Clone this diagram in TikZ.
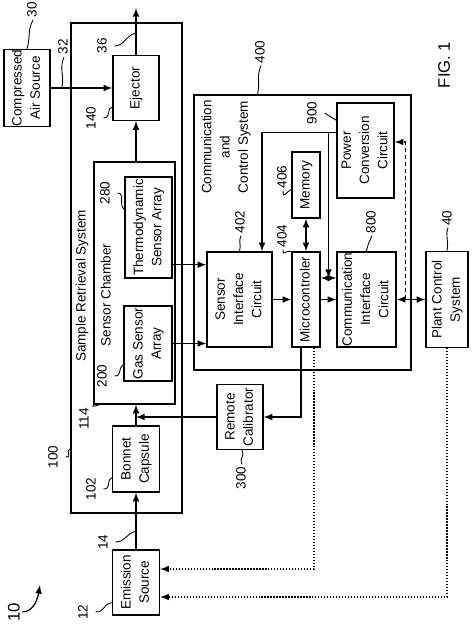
\documentclass[tikz,border=0pt]{standalone}
\usepackage{fontspec}
\setmainfont{Liberation Sans}
\usepackage{graphicx}
\usepackage{tikz}
\usetikzlibrary{calc}

\newcommand{\vtext}[1]{\rotatebox{90}{\begin{tabular}{@{}c@{}}#1\end{tabular}}}

\tikzset{
  box/.style={draw, line width=0.8pt, inner sep=0pt},
  num/.style={inner sep=1pt},
  lead/.style={line width=0.5pt},
  dotline/.style={densely dotted, line width=0.7pt},
}

\begin{document}
\begin{tikzpicture}[x=0.02cm, y=-0.02cm, >=latex, line width=0.7pt,
  every node/.style={font=\fontsize{7.7}{10.4}\selectfont}]
  \useasboundingbox (0,0) rectangle (474,624);

  % sample retrieval system
  \node[box, minimum width=2.22cm, minimum height=9.80cm] (srs) at (126.5,268) {};
  \node (srstext) at (82,286) {\vtext{Sample Retrieval System}};
  \node[box, minimum width=1.62cm, minimum height=4.84cm] (chamber) at (134.5,283) {};
  \node (chambertext) at (107,295) {\vtext{Sensor Chamber}};
  \node[box, minimum width=0.94cm, minimum height=2.02cm] (thermo) at (148.5,227.5) {\vtext{Thermodynamic\\Sensor Array}};
  \node[box, minimum width=0.96cm, minimum height=1.50cm] (gas) at (148,343.5) {\vtext{Gas Sensor\\Array}};
  \node[box, minimum width=0.92cm, minimum height=1.30cm] (ejector) at (136,88) {\vtext{Ejector}};
  \node[box, minimum width=0.94cm, minimum height=1.32cm] (bonnet) at (136,459) {\vtext{Bonnet\\Capsule}};

  \node[box, minimum width=0.92cm, minimum height=1.54cm] (cas) at (27,88) {\vtext{Compressed\\Air Source}};
  \node[box, minimum width=0.94cm, minimum height=1.30cm] (emission) at (136,582.5) {\vtext{Emission\\Source}};
  \node[box, minimum width=0.92cm, minimum height=1.30cm] (calib) at (240,417) {\vtext{Remote\\Calibrator}};

  % communication and control system
  \node[box, minimum width=4.34cm, minimum height=5.50cm] (ccs) at (302.5,232.5) {};
  \node (ccstext) at (226,147) {\vtext{Communication\\and\\Control System}};
  \node[box, minimum width=1.14cm, minimum height=1.90cm] (pcc) at (365.5,150.5) {\vtext{Power\\Conversion\\Circuit}};
  \node[box, minimum width=0.56cm, minimum height=1.32cm] (memory) at (306,185) {\vtext{Memory}};
  \node[box, minimum width=1.30cm, minimum height=1.90cm] (sic) at (239.5,299.5) {\vtext{Sensor\\Interface\\Circuit}};
  \node[box, minimum width=0.56cm, minimum height=1.90cm] (micro) at (306,299.5) {\vtext{Microcontroler}};
  \node[box, minimum width=1.18cm, minimum height=1.90cm] (cic) at (366.5,299.5) {\vtext{Communication\\Interface\\Circuit}};
  \node[box, minimum width=0.84cm, minimum height=1.92cm] (pcs) at (447,299.5) {\vtext{Plant Control\\System}};

  \node[font=\fontsize{9.5}{11}\selectfont] (fig) at (444,65) {\rotatebox{90}{FIG. 1}};

  % flow of the sample
  \coordinate (exh) at (136,8);
  \draw[->] (cas.east) -- (cas.east -| ejector.west);
  \draw[->] (ejector.north) -- (exh);
  \draw[->] (ejector.south |- chamber.north) -- (ejector.south);
  \draw[->] (emission.north) -- (bonnet.south);
  \draw[->] (bonnet.north) -- (bonnet.north |- chamber.south);
  \draw[->] (calib.west) -- (calib.west -| bonnet.north);

  % signals
  \coordinate (t1) at ([yshift=0.28cm]thermo.south east);
  \draw[->] (t1) -- (t1 -| sic.west);
  \draw[->] (gas.east) -- (gas.east -| sic.west);
  \draw[->] (sic.east) -- (micro.west);
  \draw[->] (micro.east) -- (cic.west);
  \draw[<->] (memory.south) -- (micro.north);
  \draw[<->] (cic.east) -- (pcs.west);

  % power
  \coordinate (p1) at ([yshift=-0.6cm]pcc.north west);
  \coordinate (s1) at ([xshift=0.45cm]sic.north);
  \coordinate (pj) at ([yshift=0.43cm]$(micro.east)!0.5!(cic.west)$);
  \draw[->] (p1) -| (s1);
  \draw[->] (p1 -| pj) -- (pj);
  \draw[<->] (pj -| micro.east) -- (pj -| cic.west);
  \coordinate (d1) at ($(cic.east)!0.3!(pcs.west)$);
  \coordinate (p3) at ([yshift=0.17cm]pcc.east);
  \draw[->, dash pattern=on 2.5pt off 1.5pt] (d1) |- (p3);

  % control
  \coordinate (m1) at ([xshift=-0.1cm]micro.south);
  \coordinate (m2) at ([xshift=0.16cm]micro.south);
  \coordinate (e1) at ([yshift=0.27cm]emission.east);
  \coordinate (e2) at ([yshift=-0.29cm]emission.east);
  \draw[->] (m1) |- (calib.east);
  \draw[->, dotline] (m2) |- (e1);
  \draw[->, dotline] (pcs.south) |- (e2);

  % reference numerals
  \node[num] (n30) at (33,10) {\vtext{30}};
  \node[num] (n32) at (64,47) {\vtext{32}};
  \node[num] (n36) at (103,46) {\vtext{36}};
  \node[num] (n140) at (92,118) {\vtext{140}};
  \node[num] (n280) at (106,193) {\vtext{280}};
  \node[num] (n200) at (103,376) {\vtext{200}};
  \node[num] (n114) at (85,419) {\vtext{114}};
  \node[num] (n102) at (92,489) {\vtext{102}};
  \node[num] (n100) at (54,457) {\vtext{100}};
  \node[num] (n14) at (104,542) {\vtext{14}};
  \node[num] (n12) at (84,612) {\vtext{12}};
  \node[num] (n300) at (242,478) {\vtext{300}};
  \node[num] (n400) at (261,52) {\vtext{400}};
  \node[num] (n900) at (313,113) {\vtext{900}};
  \node[num] (n406) at (283,177) {\vtext{406}};
  \node[num] (n404) at (283,236) {\vtext{404}};
  \node[num] (n402) at (241,222) {\vtext{402}};
  \node[num] (n800) at (372,222) {\vtext{800}};
  \node[num] (n40) at (448,218) {\vtext{40}};
  \node[num, font=\fontsize{9.5}{11}\selectfont] (n10) at (14,612) {\rotatebox{90}{10}};

  \draw[lead] (n30.south) .. controls +(-6,12) and +(4,-14) .. (cas.north);
  \draw[lead] (n32.south) .. controls +(-5,12) and +(3,-12) .. ([xshift=0.22cm]cas.east);
  \draw[lead] (n36.east) .. controls +(10,0) and +(-12,4) .. ([yshift=0.44cm]ejector.north);
  \draw[lead] (n140.east) .. controls +(8,0) and +(-6,0) .. ([yshift=0.28cm]ejector.south west);
  \draw[lead] (n280.east) .. controls +(8,0) and +(-6,-4) .. ([yshift=-0.66cm]thermo.north west);
  \draw[lead] (n200.east) .. controls +(8,0) and +(-6,4) .. ([yshift=0.34cm]gas.south west);
  \draw[lead] (n114.north east) .. controls +(4,-2) and +(-3,4) .. (chamber.south west);
  \draw[lead] (n102.east) .. controls +(8,0) and +(-6,4) .. ([yshift=0.3cm]bonnet.south west);
  \draw[lead] (n100.east) .. controls +(8,0) and +(-6,4) .. ([yshift=1.3cm]srs.south west);
  \draw[lead] (n14.east) .. controls +(10,0) and +(-10,2) .. ([yshift=0.36cm]emission.north);
  \draw[lead] (n12.east) .. controls +(10,0) and +(-10,2) .. ([yshift=0.26cm]emission.south west);
  \draw[lead] (n300.north) .. controls +(-3,-8) and +(3,8) .. ([xshift=0.04cm]calib.south);
  \draw[lead] (n400.south) .. controls +(-5,12) and +(3,-14) .. ([xshift=-0.9cm]ccs.north);
  \draw[lead] (n900.east) -- ([yshift=-0.36cm]pcc.north west);
  \draw[lead] (n406.south) .. controls +(0,10) and +(-5,2) .. ([yshift=-0.76cm]memory.north west);
  \draw[lead] (n404.south) .. controls +(0,8) and +(-6,-2) .. (micro.north west);
  \draw[lead] (n402.south) .. controls +(-3,8) and +(2,-10) .. (sic.north);
  \draw[lead] (n800.south) .. controls +(-3,8) and +(2,-10) .. (cic.north);
  \draw[lead] (n40.south) .. controls +(-3,8) and +(2,-10) .. (pcs.north);

  \coordinate (c10) at (40,585);
  \draw[->] (n10.east) .. controls +(12,0) and +(-2,12) .. (c10);
\end{tikzpicture}
\end{document}
